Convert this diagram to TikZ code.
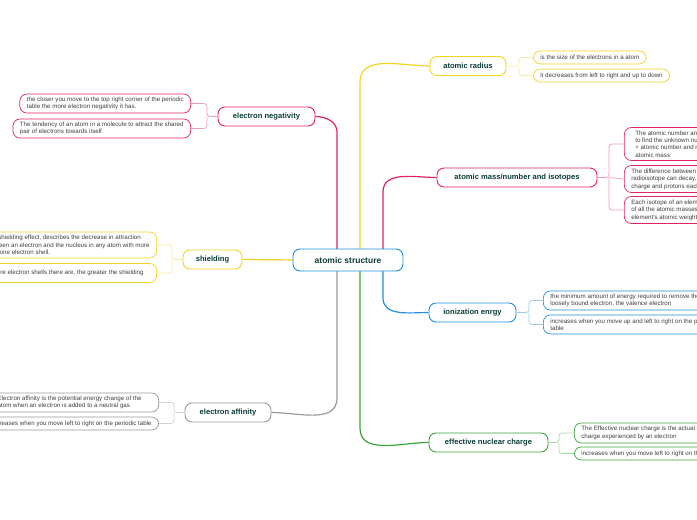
\documentclass[tikz,border=0pt]{standalone}
\usepackage{fontspec}
\setmainfont{Liberation Sans}
\definecolor{cy}{HTML}{F5D320}
\definecolor{cp}{HTML}{E0245E}
\definecolor{cb}{HTML}{1E90DC}
\definecolor{cg}{HTML}{3AA33A}
\definecolor{cgr}{HTML}{999999}
\definecolor{tx}{HTML}{0B3D3A}
\begin{document}
\begin{tikzpicture}[x=1pt,y=-1pt,
 topic/.style={draw=#1,line width=0.9pt,rounded corners=7pt,fill=white,font=\fontsize{7.6}{9}\selectfont\bfseries,text=tx,minimum height=19pt,inner xsep=4pt},
 sub/.style={draw=#1,line width=0.7pt,rounded corners=7pt,fill=white,font=\fontsize{6.2}{7.4}\selectfont,text=black!75,align=left,inner xsep=7pt,inner ysep=2pt,minimum height=13pt},
 br/.style={draw=#1,line width=1.2pt},
 sb/.style={draw=#1!45,line width=0.7pt,rounded corners=3pt}]
\useasboundingbox (0,0) rectangle (697,520);
\node[topic=cy,minimum width=76pt] (ar) at (468,66) {atomic radius};
\node[topic=cp,minimum width=160pt] (am) at (517,177.5) {atomic mass/number and isotopes};
\node[topic=cb,minimum width=87pt] (ie) at (472.5,312.5) {ionization enrgy};
\node[topic=cg,minimum width=119pt] (en) at (488.5,442.5) {effective nuclear charge};
\node[topic=cp,minimum width=97pt] (eneg) at (266.5,116.5) {electron negativity};
\node[topic=cy,minimum width=59pt] (sh) at (212.5,259.5) {shielding};
\node[topic=cgr,minimum width=86pt] (ea) at (228,412.5) {electron affinity};
% branches
\draw[br=cy] (360,249) -- (360,82) to[out=90,in=180] (ar.west);
\draw[br=cg] (360,271) -- (360,428) to[out=-90,in=180] (en.west);
\draw[br=cp] (383,260) -- (383,192) to[out=90,in=180] (am.west);
\draw[br=cb] (383,260) -- (383,298) to[out=-90,in=180] (ie.west);
\draw[br=cp] (337,249) -- (337,132) to[out=90,in=0] (eneg.east);
\draw[br=cgr] (337,271) -- (337,398) to[out=-90,in=0] (ea.east);
\draw[br=cy] (300,260) -- (sh.east);
\node[draw=cb,line width=0.9pt,rounded corners=7pt,fill=white,font=\fontsize{8.5}{10}\selectfont\bfseries,text=tx,minimum width=110pt,minimum height=22pt] (c) at (348,260) {atomic structure};
% subs right
\node[sub=cy,anchor=west] (ar1) at (533,57.5) {is the size of the electrons in a atom};
\node[sub=cy,anchor=west] (ar2) at (533,75.5) {it decreases from left to right and up to down};
\draw[sb=cy] (ar.east) -- (519,66) |- (ar1.west);
\draw[sb=cy] (519,66) |- (ar2.west);
\node[sub=cp,anchor=west,minimum height=33pt] (am1) at (624,144) {\hspace*{4pt}The atomic number and mass can be used\\\hspace*{4pt}to find the unknown number of neutrons\\\hspace*{4pt}+ atomic number and neutrons =\\\hspace*{4pt}atomic mass};
\node[sub=cp,anchor=west,minimum height=27pt] (am2) at (624,179) {The difference between an isotope and a\\radioisotope can decay, it has the same\\charge and protons each};
\node[sub=cp,anchor=west,minimum height=27pt] (am3) at (624,210) {Each isotope of an element has a mass\\of all the atomic masses of the\\element's atomic weight};
\draw[sb=cp] (am.east) -- (609,177.5) |- (am1.west);
\draw[sb=cp] (609,177.5) -- (am2.west);
\draw[sb=cp] (609,177.5) |- (am3.west);
\node[sub=cb,anchor=west,minimum height=19pt] (ie1) at (543,300.5) {the minimum amount of energy required to remove the most\\loosely bound electron, the valence electron};
\node[sub=cb,anchor=west,minimum height=19pt] (ie2) at (543,324.5) {increases when you move up and left to right on the periodic\\table};
\draw[sb=cb] (ie.east) -- (529,312.5) |- (ie1.west);
\draw[sb=cb] (529,312.5) |- (ie2.west);
\node[sub=cg,anchor=west,minimum height=20pt] (en1) at (574,433) {The Effective nuclear charge is the actual nuclear\\charge experienced by an electron};
\node[sub=cg,anchor=west] (en2) at (574,453.5) {increases when you move left to right on the periodic table};
\draw[sb=cg] (en.east) -- (559,442.5) |- (en1.west);
\draw[sb=cg] (559,442.5) |- (en2.west);
% subs left
\node[sub=cp,anchor=east,minimum height=19pt] (n1) at (191,103.5) {the closer you move to the top right corner of the periodic\\table the more electron negativity it has.};
\node[sub=cp,anchor=east,minimum height=19pt] (n2) at (191,128.5) {The tendency of an atom in a molecule to attract the shared\\pair of electrons towards itself};
\draw[sb=cp] (eneg.west) -- (207,116.5) |- (n1.east);
\draw[sb=cp] (207,116.5) |- (n2.east);
\node[sub=cy,anchor=east,minimum height=26pt] (s1) at (157,245) {The shielding effect, describes the decrease in attraction\\between an electron and the nucleus in any atom with more\\than one electron shell.\hspace*{60pt}};
\node[sub=cy,anchor=east,minimum height=19pt] (s2) at (157,273) {The more electron shells there are, the greater the shielding\hspace*{6pt}};
\draw[sb=cy] (sh.west) -- (172,259.5) |- (s1.east);
\draw[sb=cy] (172,259.5) |- (s2.east);
\node[sub=cgr,anchor=east,minimum height=19pt] (a1) at (159,402.5) {Electron affinity is the potential energy change of the\hspace*{10pt}\\atom when an electron is added to a neutral gas};
\node[sub=cgr,anchor=east] (a2) at (159,423.5) {it increases when you move left to right on the periodic table};
\draw[sb=cgr] (ea.west) -- (174,412.5) |- (a1.east);
\draw[sb=cgr] (174,412.5) |- (a2.east);
\end{tikzpicture}
\end{document}
